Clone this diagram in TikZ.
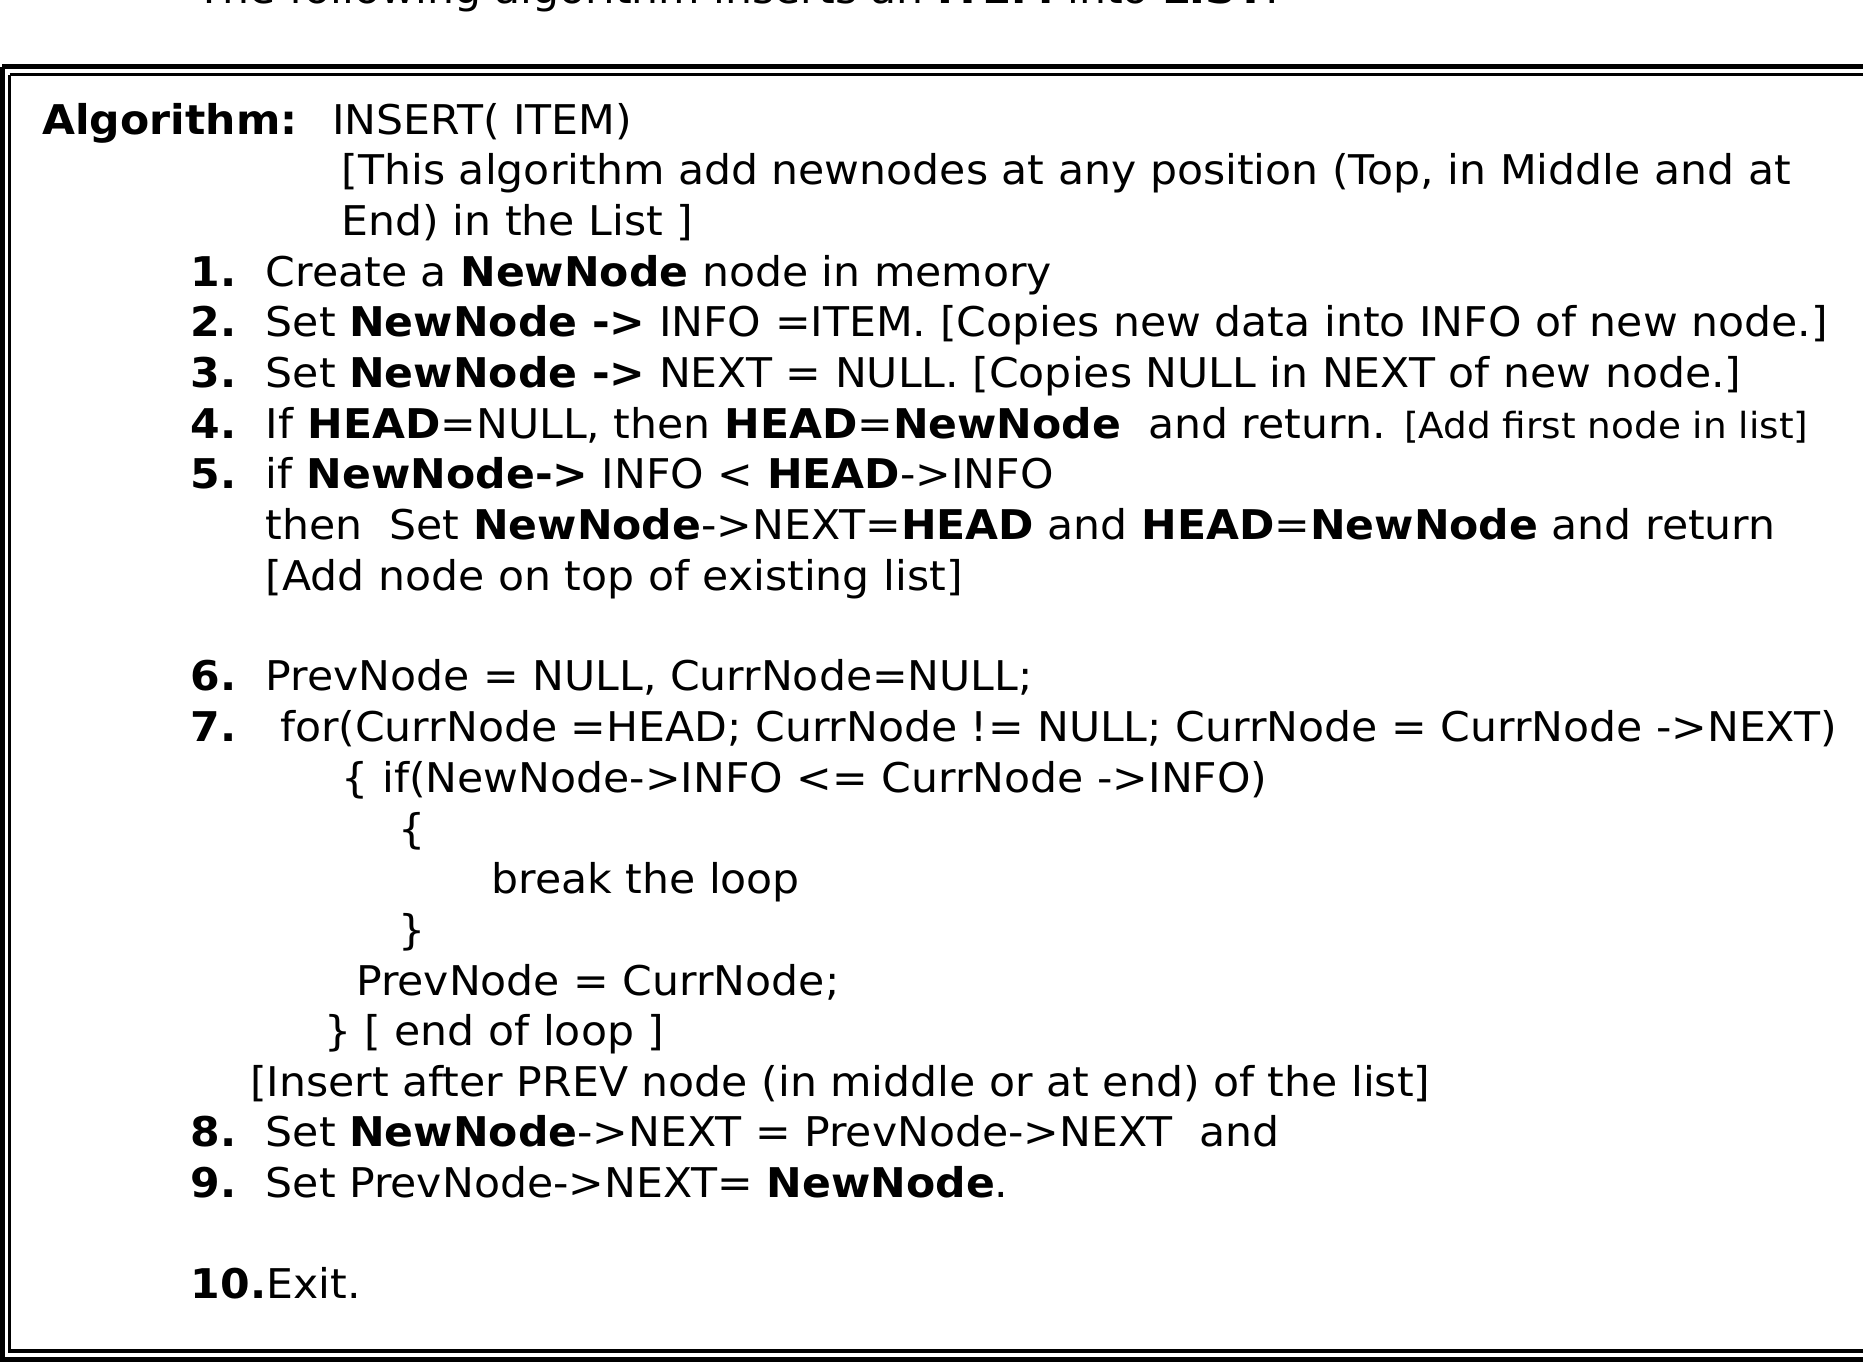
\documentclass[tikz,border=0pt]{standalone}
\usepackage{fontspec}
\setmainfont{DejaVu Sans}[FakeStretch=1.04]
\begin{document}
\begin{tikzpicture}[x=0.01cm,y=-0.01cm,
  t/.style={anchor=base west,inner sep=0pt,font=\fontsize{9.8}{12}\selectfont},
  sm/.style={anchor=base west,inner sep=0pt,font=\fontsize{8.6}{10}\selectfont}]
\useasboundingbox (0,0) rectangle (1568,1150);
\clip (0,0) rectangle (1568,1150);
\node[t] (top) at (165,3) {The following algorithm inserts an \textbf{ITEM} into \textbf{LIST}.};
\draw[line width=1.15pt] (2,56) -- (1600,56) (2,56) -- (2,1144) -- (1600,1144);
\draw[line width=0.75pt] (8,63) -- (1600,63) (8,63) -- (8,1137) -- (1600,1137);
\node[t] (alg) at (35,113) {\textbf{Algorithm:}};
\node[t] (ins) at (279,113) {INSERT( ITEM)};
\node[t] (c1) at (287,155) {[This algorithm add newnodes at any position (Top, in Middle and at};
\node[t] (c2) at (287,198) {End) in the List ]};
\foreach \n/\y in {1/241,2/283,3/326,4/369,5/411,6/581,7/624,8/965,9/1008}
  \node[t] (n\n) at (160,\y) {\textbf{\n.}};
\node[t] (s1) at (223,241) {Create a \textbf{NewNode} node in memory};
\node[t] (s2) at (223,283) {Set \textbf{NewNode ->} INFO =ITEM. [Copies new data into INFO of new node.]};
\node[t] (s3) at (223,326) {Set \textbf{NewNode ->} NEXT = NULL. [Copies NULL in NEXT of new node.]};
\node[t] (s4) at (223,369) {If \textbf{HEAD}=NULL, then \textbf{HEAD}=\textbf{NewNode}\ \ and return.};
\node[sm] (s4b) at (s4.base east) [xshift=4pt] {[Add first node in list]};
\node[t] (s5) at (223,411) {if \textbf{NewNode->} INFO < \textbf{HEAD}->INFO};
\node[t] (s5b) at (223,454) {then\ \ Set \textbf{NewNode}->NEXT=\textbf{HEAD} and \textbf{HEAD}=\textbf{NewNode} and return};
\node[t] (s5c) at (223,497) {[Add node on top of existing list]};
\node[t] (s6) at (223,581) {PrevNode = NULL, CurrNode=NULL;};
\node[t] (s7) at (235,624) {for(CurrNode =HEAD; CurrNode != NULL; CurrNode = CurrNode ->NEXT)};
\node[t] (l1) at (287,667) {\{ if(NewNode->INFO <= CurrNode ->INFO)};
\node[t] (l2) at (335,710) {\{};
\node[t] (l3) at (413,752) {break the loop};
\node[t] (l4) at (335,795) {\}};
\node[t] (l5) at (299,838) {PrevNode = CurrNode;};
\node[t] (l6) at (272,880) {\} [ end of loop ]};
\node[t] (l7) at (210,923) {[Insert after PREV node (in middle or at end) of the list]};
\node[t] (s8) at (223,965) {Set \textbf{NewNode}->NEXT = PrevNode->NEXT\ \ and};
\node[t] (s9) at (223,1008) {Set PrevNode->NEXT= \textbf{NewNode}.};
\node[t] (s10) at (160,1093) {\textbf{10.}Exit.};
\end{tikzpicture}
\end{document}
